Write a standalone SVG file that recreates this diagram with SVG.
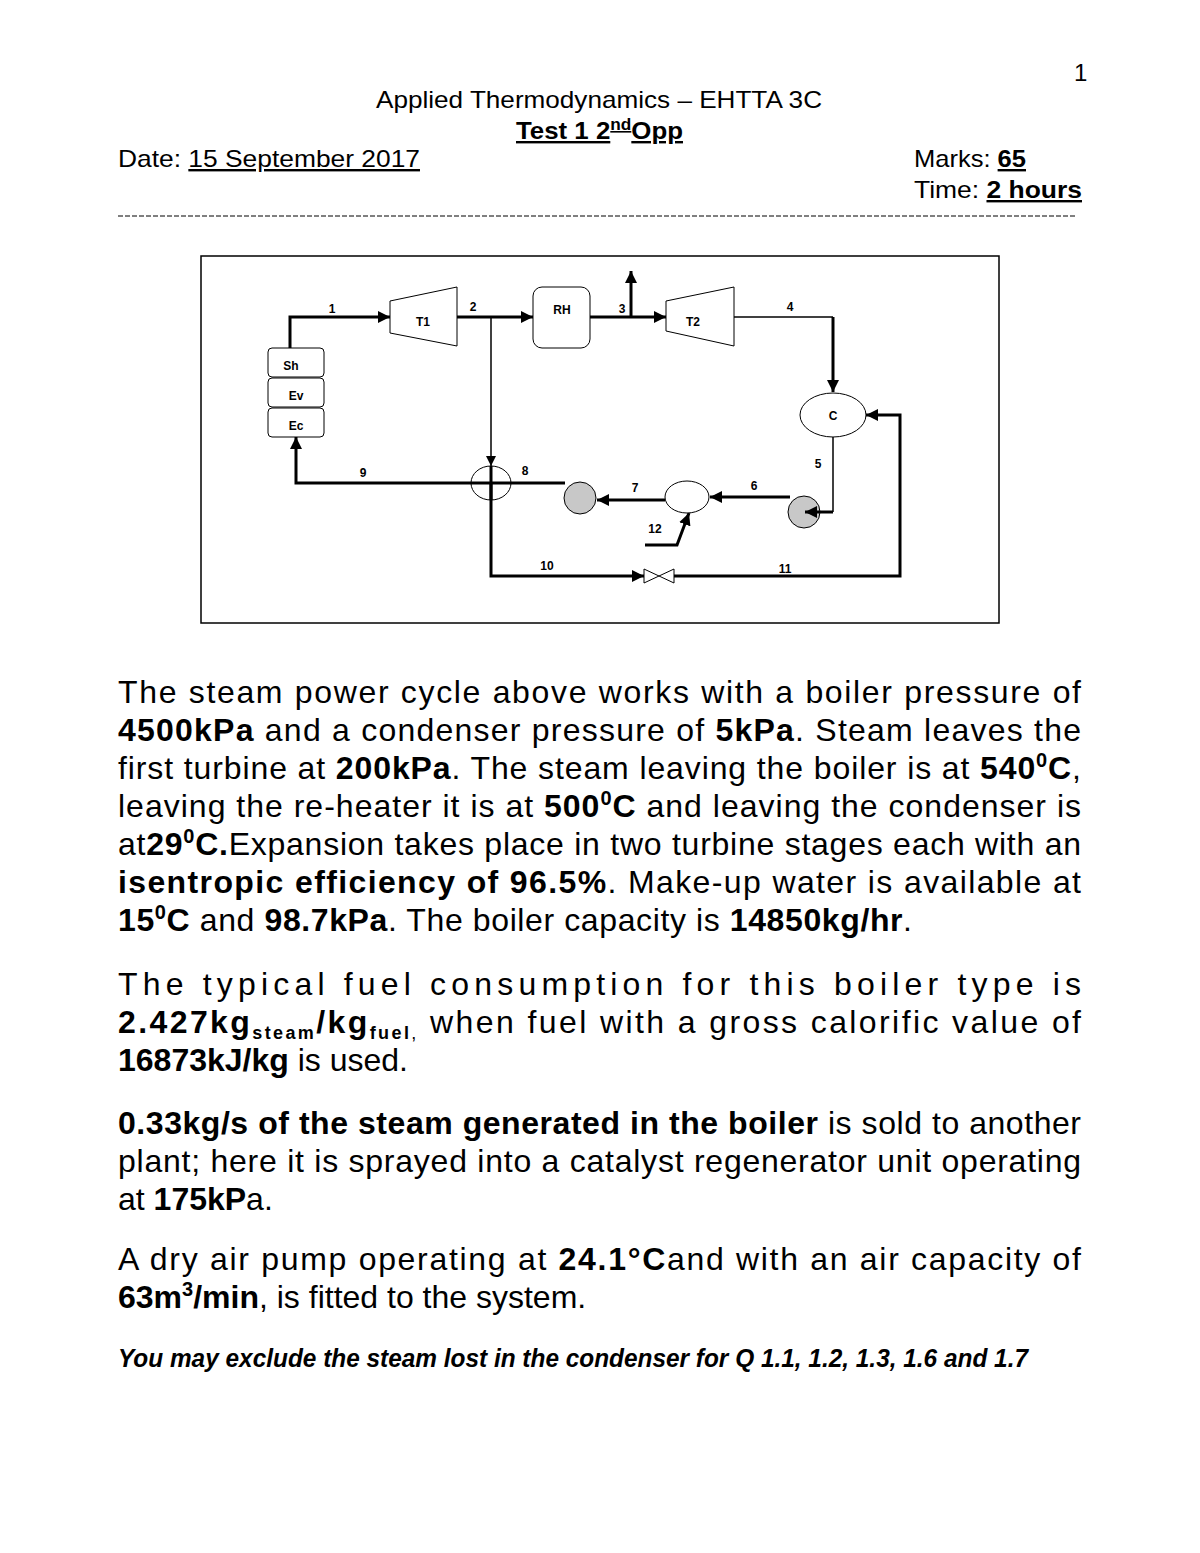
<svg xmlns="http://www.w3.org/2000/svg" width="1200" height="1553" viewBox="0 0 1200 1553">
<style>
text{font-family:"Liberation Sans",Arial,sans-serif;fill:#000}
.h{font-size:24px}
.b{font-size:32px}
.lbl{font-size:12px;font-weight:bold}
.th{stroke:#000;stroke-width:3;fill:none}
.tn{stroke:#000;stroke-width:1.5;fill:none}
.sh{fill:#fff;stroke:#000;stroke-width:1}
.pump{fill:#c8c8c8;stroke:#000;stroke-width:1}
</style>
<defs>
<marker id="a" viewBox="0 0 10 10" refX="10" refY="5" markerWidth="4" markerHeight="4" orient="auto" markerUnits="strokeWidth"><path d="M0,0L10,5L0,10z" fill="#000"/></marker>
<marker id="a2" viewBox="0 0 10 10" refX="10" refY="5" markerWidth="7" markerHeight="7" orient="auto" markerUnits="strokeWidth"><path d="M0,0L10,5L0,10z" fill="#000"/></marker>
</defs>
<rect width="1200" height="1553" fill="#fff"/>
<text class="h" x="1074" y="81" font-size="20">1</text>
<text class="h" x="376" y="108" textLength="446" lengthAdjust="spacingAndGlyphs">Applied Thermodynamics – EHTTA 3C</text>
<text class="h" x="516" y="139" font-weight="bold" text-decoration="underline" textLength="167" lengthAdjust="spacingAndGlyphs">Test 1 2<tspan font-size="16" dy="-9">nd</tspan><tspan dy="9">Opp</tspan></text>
<text class="h" x="118" y="167" textLength="302" lengthAdjust="spacingAndGlyphs">Date: <tspan text-decoration="underline">15 September  2017</tspan></text>
<text class="h" x="914" y="167" textLength="112" lengthAdjust="spacingAndGlyphs">Marks: <tspan font-weight="bold" text-decoration="underline">65</tspan></text>
<text class="h" x="914" y="198" textLength="168" lengthAdjust="spacingAndGlyphs">Time: <tspan font-weight="bold" text-decoration="underline">2 hours</tspan></text>
<line x1="118" y1="216" x2="1076" y2="216" stroke="#000" stroke-width="1" stroke-dasharray="5,2"/>

<rect x="201" y="256" width="798" height="367" fill="none" stroke="#000" stroke-width="1.5"/>
<g id="connectors">
<path class="th" d="M290,348V317H390" marker-end="url(#a)"/>
<path class="th" d="M457,317H533" marker-end="url(#a)"/>
<path class="tn" d="M491,317V466" marker-end="url(#a2)"/>
<path class="th" d="M590,317H666" marker-end="url(#a)"/>
<path class="th" d="M631,317V271" marker-end="url(#a)"/>
<path class="tn" d="M734,317H833"/>
<path class="th" d="M833,317V392" marker-end="url(#a)"/>
<path class="tn" d="M833,437V512"/>
<path class="th" d="M790,497H710" marker-end="url(#a)"/>
<path class="th" d="M665,500H597" marker-end="url(#a)"/>
<path class="th" d="M645,545H677L689,513" marker-end="url(#a)"/>
<path class="th" d="M565,483H296V437" marker-end="url(#a)"/>
<path class="th" d="M491,483V576H644" marker-end="url(#a)"/>
<path class="th" d="M674,576H900V415H866" marker-end="url(#a)"/>
</g>
<g id="boiler">
<rect x="268" y="348" width="56" height="29" rx="4" class="sh"/>
<rect x="268" y="378" width="56" height="29" rx="4" class="sh"/>
<rect x="268" y="408" width="56" height="29" rx="4" class="sh"/>
<text class="lbl" x="291" y="370" text-anchor="middle" font-size="11">Sh</text>
<text class="lbl" x="296" y="400" text-anchor="middle" font-size="11">Ev</text>
<text class="lbl" x="296" y="430" text-anchor="middle" font-size="11">Ec</text>
</g>
<g id="T1"><path d="M390,301L457,287V346L390,333Z" class="sh"/><text class="lbl" x="423" y="326" text-anchor="middle">T1</text></g>
<g id="RH"><rect x="533" y="287" width="57" height="61" rx="9" class="sh"/><text class="lbl" x="562" y="314" text-anchor="middle">RH</text></g>
<g id="T2"><path d="M666,301L734,287V346L666,331Z" class="sh"/><text class="lbl" x="693" y="326" text-anchor="middle">T2</text></g>
<g id="C"><ellipse cx="833" cy="415" rx="33" ry="22" class="sh"/><text class="lbl" x="833" y="420" text-anchor="middle">C</text></g>
<g id="mixer"><ellipse cx="491" cy="483" rx="20" ry="17" fill="none" stroke="#000"/><path d="M491,466V500" stroke="#000" stroke-width="3"/></g>
<g id="pump1"><circle cx="580" cy="498" r="16" class="pump"/></g>
<g id="heater"><ellipse cx="687" cy="497" rx="22" ry="16" class="sh"/></g>
<g id="pump2"><circle cx="804" cy="512" r="16" class="pump"/><path class="th" d="M833,512H805" marker-end="url(#a)"/></g>
<g id="valve"><path d="M644,569L674,583V569L644,583Z" class="sh"/></g>
<g id="labels" class="lbl">
<text x="332" y="313" text-anchor="middle">1</text>
<text x="473" y="311" text-anchor="middle">2</text>
<text x="622" y="313" text-anchor="middle">3</text>
<text x="790" y="311" text-anchor="middle">4</text>
<text x="818" y="468" text-anchor="middle">5</text>
<text x="754" y="490" text-anchor="middle">6</text>
<text x="635" y="492" text-anchor="middle">7</text>
<text x="525" y="475" text-anchor="middle">8</text>
<text x="363" y="477" text-anchor="middle">9</text>
<text x="547" y="570" text-anchor="middle">10</text>
<text x="785" y="573" text-anchor="middle">11</text>
<text x="655" y="533" text-anchor="middle">12</text>
</g>

<g class="b">
<text class="b" x="118" y="703" textLength="963" lengthAdjust="spacing">The steam power cycle above works with a boiler pressure of</text>
<text class="b" x="118" y="741" textLength="963" lengthAdjust="spacing"><tspan font-weight="bold">4500kPa</tspan> and a condenser pressure of <tspan font-weight="bold">5kPa</tspan>. Steam leaves the</text>
<text class="b" x="118" y="779" textLength="963" lengthAdjust="spacing">first turbine at <tspan font-weight="bold">200kPa</tspan>. The steam leaving the boiler is at <tspan font-weight="bold">540<tspan font-size="20" dy="-12">0</tspan><tspan dy="12">C</tspan></tspan>,</text>
<text class="b" x="118" y="817" textLength="963" lengthAdjust="spacing">leaving the re-heater it is at <tspan font-weight="bold">500<tspan font-size="20" dy="-12">0</tspan><tspan dy="12">C</tspan></tspan> and leaving the condenser is</text>
<text class="b" x="118" y="855" textLength="963" lengthAdjust="spacing">at<tspan font-weight="bold">29<tspan font-size="20" dy="-12">0</tspan><tspan dy="12">C.</tspan></tspan>Expansion takes place in two turbine stages each with an</text>
<text class="b" x="118" y="893" textLength="963" lengthAdjust="spacing"><tspan font-weight="bold">isentropic efficiency of 96.5%</tspan>.  Make-up water is available at</text>
<text class="b" x="118" y="931" textLength="794" lengthAdjust="spacing"><tspan font-weight="bold">15<tspan font-size="20" dy="-12">0</tspan><tspan dy="12">C</tspan></tspan> and <tspan font-weight="bold">98.7kPa</tspan>. The boiler capacity is <tspan font-weight="bold">14850kg/hr</tspan>.</text>
<text class="b" x="118" y="995" textLength="963" lengthAdjust="spacing">The typical fuel consumption for this boiler type is</text>
<text class="b" x="118" y="1033" textLength="963" lengthAdjust="spacing"><tspan font-weight="bold">2.427kg<tspan font-size="18" dy="6">steam</tspan><tspan dy="-6">/kg</tspan><tspan font-size="18" dy="6">fuel</tspan></tspan><tspan font-size="18">,</tspan><tspan dy="-6"> when fuel with a gross calorific value of</tspan></text>
<text class="b" x="118" y="1071"><tspan font-weight="bold">16873kJ/kg</tspan> is used.</text>
<text class="b" x="118" y="1134" textLength="963" lengthAdjust="spacing"><tspan font-weight="bold">0.33kg/s of the steam generated in the boiler</tspan> is sold to another</text>
<text class="b" x="118" y="1172" textLength="963" lengthAdjust="spacing">plant; here it is sprayed into a catalyst regenerator unit operating</text>
<text class="b" x="118" y="1210">at <tspan font-weight="bold">175kP</tspan>a.</text>
<text class="b" x="118" y="1270" textLength="963" lengthAdjust="spacing">A dry air pump operating at <tspan font-weight="bold">24.1°C</tspan>and with an air capacity of</text>
<text class="b" x="118" y="1308"><tspan font-weight="bold">63m<tspan font-size="20" dy="-12">3</tspan><tspan dy="12">/min</tspan></tspan>, is fitted to the system.</text>
<text x="118" y="1367" font-size="25" font-style="italic" font-weight="bold" textLength="910" lengthAdjust="spacingAndGlyphs">You may exclude the steam lost in the condenser for Q 1.1, 1.2, 1.3, 1.6 and 1.7</text>
</g>
</svg>
